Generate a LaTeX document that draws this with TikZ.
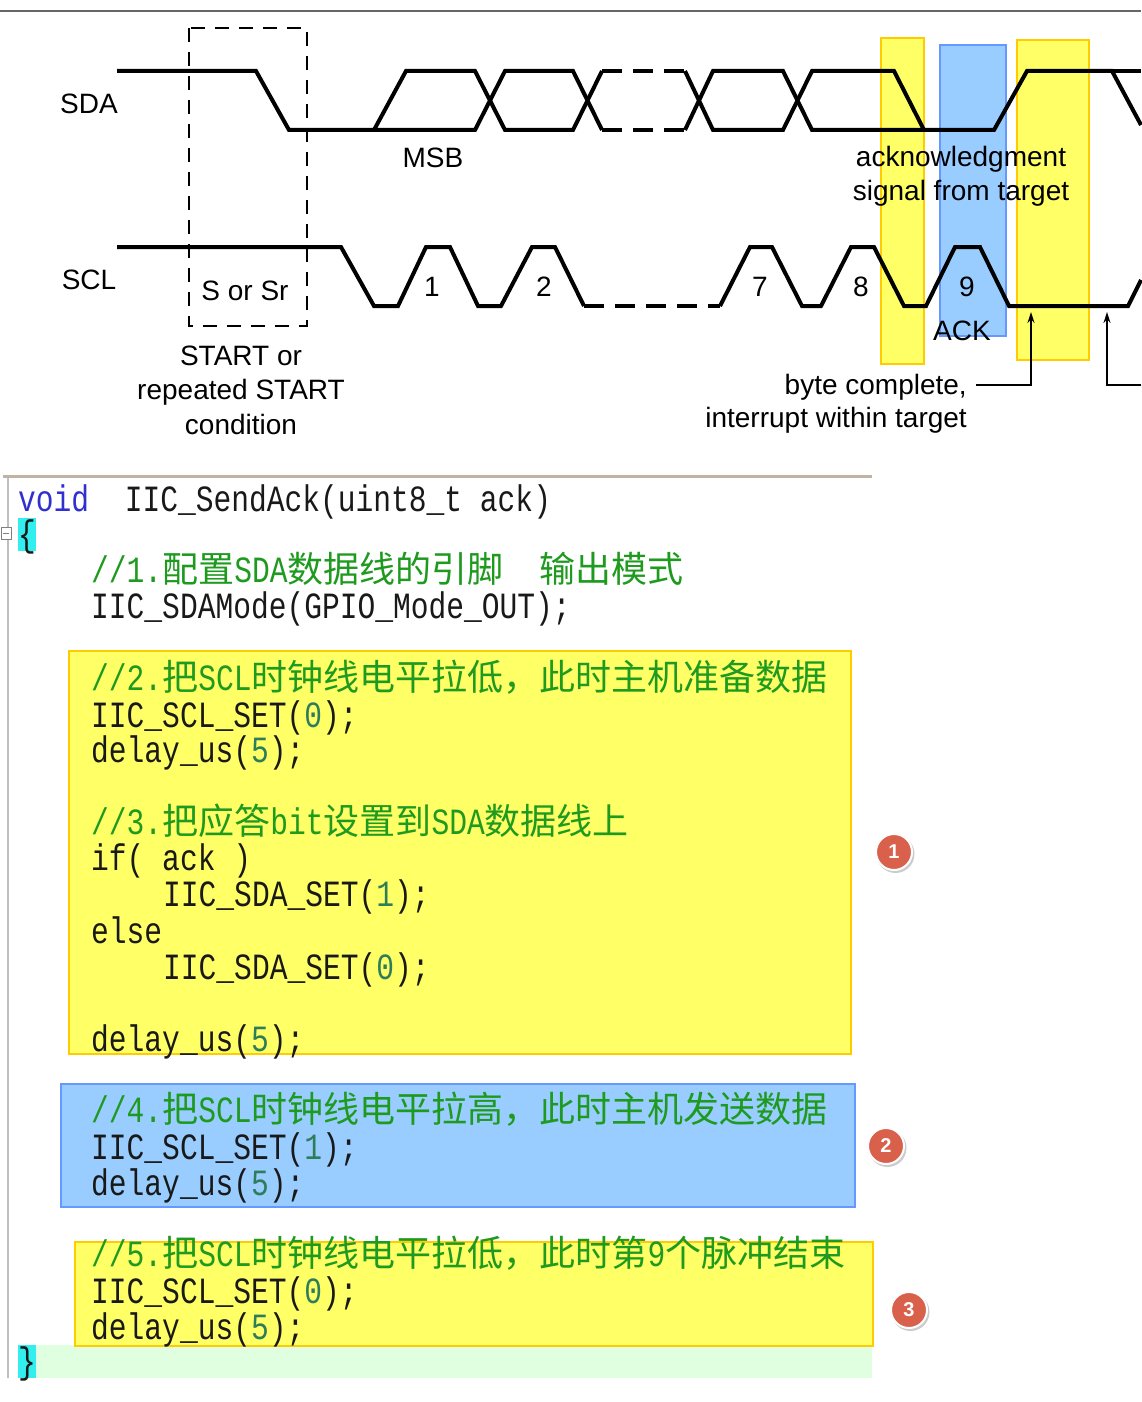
\documentclass[tikz,border=0pt]{standalone}
\usepackage{fontspec}
\setmainfont{Liberation Sans}
\newfontfamily\codefont[FakeStretch=0.8]{Liberation Mono}
\newfontfamily\cjk{Noto Sans CJK SC}
\usetikzlibrary{arrows.meta}
\definecolor{hly}{HTML}{FFFF66}
\definecolor{hlyb}{HTML}{FFCC00}
\definecolor{hlb}{HTML}{99CCFF}
\definecolor{hlbb}{HTML}{6699FF}
\definecolor{cmt}{HTML}{1E9A1E}
\definecolor{kw}{HTML}{3030D0}
\definecolor{num}{HTML}{2E7D5A}
\definecolor{badge}{HTML}{D9604A}
\definecolor{brc}{HTML}{33EEEE}
\newcommand\zh[1]{{\cjk\fontsize{36}{36}\selectfont #1}}
\newcommand\nm[1]{\textcolor{num}{#1}}
\begin{document}
\begin{tikzpicture}[x=1pt,y=-1pt,
  wave/.style={line width=4pt,line join=miter},
  lbl/.style={font=\fontsize{28}{34}\selectfont,inner sep=0pt},
  code/.style={anchor=base west,inner sep=0pt,font=\codefont\fontsize{37}{40}\selectfont,text=black!90},
  comm/.style={code,text=cmt},
  bdg/.style={circle,fill=badge,draw=white,line width=2pt,minimum size=36pt,inner sep=0pt,text=white,font=\bfseries\fontsize{20}{20}\selectfont}]
\useasboundingbox (0,0) rectangle (1141,1402);
\fill[white] (0,0) rectangle (1141,1402);
\draw[gray!80!black,line width=1.2pt] (0,11) -- (1141,11);
% highlight bars
\filldraw[fill=hly,draw=hlyb,line width=1.5pt] (881,38) rectangle (924,364);
\filldraw[fill=hlb,draw=hlbb,line width=1.5pt] (940,45) rectangle (1006,336);
\filldraw[fill=hly,draw=hlyb,line width=1.5pt] (1017,40) rectangle (1089,360);
% start box
\draw[line width=1.8pt,dash pattern=on 14pt off 10pt] (189,28) rectangle (307,326);
% SDA
\draw[wave] (117,71)--(256,71)--(289,130)--(475,130)--(505,71)--(573,71)--(602,130);
\draw[wave] (374,130)--(406,71)--(475,71)--(505,130)--(573,130)--(602,71);
\draw[wave,dash pattern=on 20pt off 11pt] (602,71)--(685,71) (602,130)--(685,130);
\draw[wave] (685,71)--(713,130)--(783,130)--(812,71)--(894,71)--(924,130)--(994,130)--(1027,71)--(1112,71)--(1141,125);
\draw[wave] (685,130)--(713,71)--(783,71)--(812,130)--(924,130);
\draw[wave] (1112,71)--(1141,71);
% SCL
\draw[wave] (117,247)--(341,247)--(374,306)--(398,306)--(426,247)--(450,247)--(478,306)--(501,306)--(532,247)--(555,247)--(584,306);
\draw[wave,dash pattern=on 20pt off 11pt] (584,306)--(720,306);
\draw[wave] (720,306)--(750,247)--(772,247)--(802,306)--(821,306)--(851,247)--(874,247)--(904,306)--(926,306)--(955,247)--(980,247)--(1009,306)--(1128,306)--(1141,280);
% labels
\node[lbl] (sda) at (89,104) {SDA};
\node[lbl] (scl) at (89,280) {SCL};
\node[lbl] (msb) at (433,158) {MSB};
\node[lbl] (ssr) at (245,291) {S or Sr};
\node[lbl,align=center,font=\fontsize{28}{34.5}\selectfont] (start) at (241,390) {START or\\repeated START\\condition};
\node[lbl] (n1) at (432,287) {1};
\node[lbl] (n2) at (544,287) {2};
\node[lbl] (n7) at (760,287) {7};
\node[lbl] (n8) at (861,287) {8};
\node[lbl] (n9) at (967,287) {9};
\node[lbl] (ack) at (962,331) {ACK};
\node[lbl,align=center,font=\fontsize{28}{34}\selectfont] (acks) at (961,176) {acknowledgment\\signal from target};
\node[lbl,align=right,anchor=east,font=\fontsize{28}{33}\selectfont] (byte) at (967,404) {byte complete,\\interrupt within target};
\coordinate (a1s) at (976,385); \coordinate (a1c) at (1031,385); \coordinate (a1t) at (1031,312);
\coordinate (a2s) at (1141,385); \coordinate (a2c) at (1107,385); \coordinate (a2t) at (1107,312);
\draw[line width=1.3pt,-{Stealth[length=11pt,width=7pt]}] (a1s)--(a1c)--(a1t);
\draw[line width=1.3pt,-{Stealth[length=11pt,width=7pt]}] (a2s)--(a2c)--(a2t);
% code area
\draw[color=brown!40!gray!60,line width=3pt] (3,476.5) -- (872,476.5);
\draw[gray!50,line width=1.5pt] (8,478) -- (8,1378);
\fill[green!12] (18,1345) rectangle (872,1378);
\fill[brc] (18,518) rectangle (36,551);
\fill[brc] (18,1345) rectangle (36,1378);
\draw[gray,line width=1pt,fill=white] (1,527) rectangle (11,539);
\draw[gray,line width=1pt] (3,533)--(9,533);
\filldraw[fill=hly,draw=hlyb,line width=1.5pt] (69,651) rectangle (851,1054);
\filldraw[fill=hlb,draw=hlbb,line width=1.5pt] (61,1084) rectangle (855,1207);
\filldraw[fill=hly,draw=hlyb,line width=1.5pt] (75,1242) rectangle (873,1346);
% code lines
\node[code] (l1) at (18,511) {\textcolor{kw}{void}~~IIC\_SendAck(uint8\_t ack)};
\node[code] (l2) at (18,546) {\{};
\node[comm] (l3) at (91,582) {//1.\zh{配置}SDA\zh{数据线的引脚　输出模式}};
\node[code] (l4) at (91,618) {IIC\_SDAMode(GPIO\_Mode\_OUT);};
\node[comm] (l5) at (91,690) {//2.\zh{把}SCL\zh{时钟线电平拉低，此时主机准备数据}};
\node[code] (l6) at (91,727) {IIC\_SCL\_SET(\nm{0});};
\node[code] (l7) at (91,762) {delay\_us(\nm{5});};
\node[comm] (l8) at (91,834) {//3.\zh{把应答}bit\zh{设置到}SDA\zh{数据线上}};
\node[code] (l9) at (91,870) {if( ack )};
\node[code] (l10) at (163,906) {IIC\_SDA\_SET(\nm{1});};
\node[code] (l11) at (91,943) {else};
\node[code] (l12) at (163,979) {IIC\_SDA\_SET(\nm{0});};
\node[code] (l13) at (91,1051) {delay\_us(\nm{5});};
\node[comm] (l14) at (91,1122) {//4.\zh{把}SCL\zh{时钟线电平拉高，此时主机发送数据}};
\node[code] (l15) at (91,1159) {IIC\_SCL\_SET(\nm{1});};
\node[code] (l16) at (91,1195) {delay\_us(\nm{5});};
\node[comm] (l17) at (91,1266) {//5.\zh{把}SCL\zh{时钟线电平拉低，此时第}9\zh{个脉冲结束}};
\node[code] (l18) at (91,1303) {IIC\_SCL\_SET(\nm{0});};
\node[code] (l19) at (91,1339) {delay\_us(\nm{5});};
\node[code] (l20) at (18,1373) {\}};
% badges
\foreach \n/\x/\y in {b1/894/852,b2/886/1146,b3/909/1310}{
  \fill[gray!40] (\x+1.5,\y+2) circle (19pt);
  \node[bdg] (\n) at (\x,\y) {};
}
\node[text=white,font=\bfseries\fontsize{20}{20}\selectfont] at (b1) {1};
\node[text=white,font=\bfseries\fontsize{20}{20}\selectfont] at (b2) {2};
\node[text=white,font=\bfseries\fontsize{20}{20}\selectfont] at (b3) {3};
\end{tikzpicture}
\end{document}
